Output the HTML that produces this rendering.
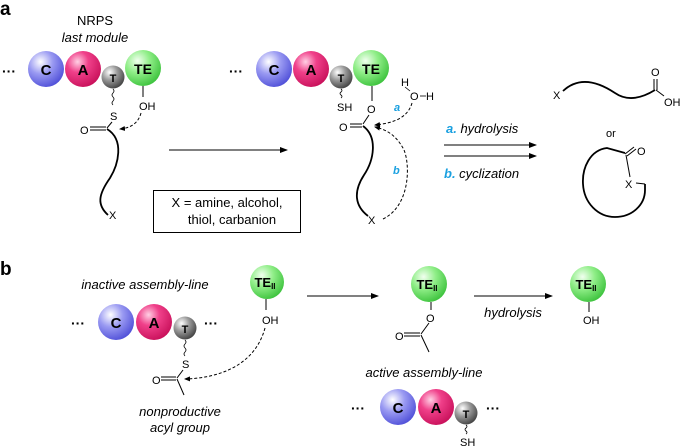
<!DOCTYPE html>
<html><head><meta charset="utf-8"><style>
html,body{margin:0;padding:0;background:#fff;}
svg{display:block;font-family:"Liberation Sans",sans-serif;}
</style></head><body>
<svg width="685" height="448" viewBox="0 0 685 448" xmlns="http://www.w3.org/2000/svg">
<defs>
<radialGradient id="gC" cx="0.35" cy="0.3" r="0.75"><stop offset="0" stop-color="#ffffff"/><stop offset="0.45" stop-color="#9a9af2"/><stop offset="1" stop-color="#4f4fd8"/></radialGradient>
<radialGradient id="gA" cx="0.35" cy="0.3" r="0.75"><stop offset="0" stop-color="#ffd0e4"/><stop offset="0.4" stop-color="#f0408a"/><stop offset="1" stop-color="#c8105a"/></radialGradient>
<radialGradient id="gT" cx="0.35" cy="0.3" r="0.75"><stop offset="0" stop-color="#ffffff"/><stop offset="0.45" stop-color="#9a9a9a"/><stop offset="1" stop-color="#404040"/></radialGradient>
<radialGradient id="gE" cx="0.35" cy="0.3" r="0.75"><stop offset="0" stop-color="#f2fff0"/><stop offset="0.45" stop-color="#90ee88"/><stop offset="1" stop-color="#3cc23c"/></radialGradient>
<marker id="ah" markerWidth="8" markerHeight="6" refX="7" refY="3" orient="auto" markerUnits="userSpaceOnUse"><path d="M0,0 L8,3 L0,6 z" fill="#000"/></marker>
<marker id="ahs" markerWidth="6" markerHeight="5" refX="5" refY="2.5" orient="auto" markerUnits="userSpaceOnUse"><path d="M0,0 L6,2.5 L0,5 z" fill="#000"/></marker>
</defs>
<g font-weight="bold" font-size="19"><text x="0" y="15">a</text><text x="0" y="275">b</text></g>

<!-- panel a, first -->
<text x="95" y="25" font-size="13" text-anchor="middle">NRPS</text>
<text x="95" y="42" font-size="13" font-style="italic" text-anchor="middle">last module</text>
<text x="2" y="76" font-size="14" font-weight="bold">···</text>
<circle cx="46" cy="69" r="18" fill="url(#gC)"/><circle cx="83" cy="69" r="18" fill="url(#gA)"/>
<circle cx="113" cy="77" r="11.5" fill="url(#gT)"/><circle cx="143" cy="68" r="18" fill="url(#gE)"/>
<g font-weight="bold" text-anchor="middle"><text x="46" y="75" font-size="15">C</text><text x="83" y="75" font-size="15">A</text><text x="113" y="82" font-size="11">T</text><text x="143" y="74" font-size="14">TE</text></g>
<path d="M113,89 q2,2 0,4 q-2,2 0,4 q2,2 0,4 q-2,2 0,4" fill="none" stroke="#000" stroke-width="0.8"/>
<line x1="143" y1="86" x2="143" y2="97" stroke="#000"/>
<g font-size="11"><text x="139" y="110">OH</text><text x="110" y="120">S</text><text x="80" y="134">O</text><text x="109" y="219">X</text></g>
<line x1="112" y1="122" x2="107" y2="128" stroke="#000"/>
<line x1="90" y1="127" x2="106" y2="127" stroke="#000"/><line x1="90" y1="130" x2="106" y2="130" stroke="#000"/>
<path d="M107,129 C125,140 118,165 110,178 C98,195 97,205 108,215" fill="none" stroke="#000" stroke-width="1.8"/>
<path d="M141,113 C138,124 130,128 120,129" fill="none" stroke="#000" stroke-dasharray="3,2" marker-end="url(#ahs)"/>
<line x1="169" y1="150" x2="287" y2="150" stroke="#000" marker-end="url(#ah)"/>
<rect x="153.5" y="190.5" width="147" height="42" fill="none" stroke="#000"/>
<text x="227" y="207" font-size="13" text-anchor="middle">X = amine, alcohol,</text>
<text x="232" y="224" font-size="13" text-anchor="middle">thiol, carbanion</text>

<!-- panel a, second -->
<text x="229" y="76" font-size="14" font-weight="bold">···</text>
<circle cx="274" cy="69" r="18" fill="url(#gC)"/><circle cx="311" cy="69" r="18" fill="url(#gA)"/>
<circle cx="341" cy="77" r="11.5" fill="url(#gT)"/><circle cx="371" cy="68" r="18" fill="url(#gE)"/>
<g font-weight="bold" text-anchor="middle"><text x="274" y="75" font-size="15">C</text><text x="311" y="75" font-size="15">A</text><text x="341" y="82" font-size="11">T</text><text x="371" y="74" font-size="14">TE</text></g>
<path d="M341,89 q2,1.5 0,3 q-2,1.5 0,3 q2,1.5 0,3" fill="none" stroke="#000" stroke-width="0.8"/>
<line x1="372" y1="86" x2="372" y2="101" stroke="#000"/>
<g font-size="11"><text x="337" y="111">SH</text><text x="367" y="113">O</text><text x="339" y="131">O</text><text x="368" y="224">X</text>
<text x="401" y="86">H</text><text x="410" y="100">O</text><text x="426" y="100">H</text></g>
<line x1="420" y1="96" x2="426" y2="96" stroke="#000" stroke-width="0.8"/>
<line x1="405" y1="87" x2="410" y2="91" stroke="#000" stroke-width="0.8"/>
<line x1="369" y1="115" x2="363" y2="124" stroke="#000"/>
<line x1="350" y1="124" x2="362" y2="124" stroke="#000"/><line x1="350" y1="127" x2="362" y2="127" stroke="#000"/>
<path d="M363,126 C378,137 374,160 364,175 C353,192 355,206 368,216" fill="none" stroke="#000" stroke-width="1.8"/>
<path d="M412,103 C408,117 395,123 375,125" fill="none" stroke="#000" stroke-dasharray="3,2" marker-end="url(#ahs)"/>
<path d="M383,219 C412,205 410,160 403,148 C396,136 388,130 375,127" fill="none" stroke="#000" stroke-dasharray="3,2" marker-end="url(#ahs)"/>
<g font-size="11" font-weight="bold" font-style="italic" fill="#1aa0e0"><text x="394" y="111">a</text><text x="393" y="174">b</text></g>

<line x1="444" y1="145" x2="536" y2="145" stroke="#000" marker-end="url(#ah)"/>
<line x1="444" y1="156" x2="536" y2="156" stroke="#000" marker-end="url(#ah)"/>
<text x="446" y="133" font-size="13" font-style="italic"><tspan fill="#1aa0e0" font-weight="bold">a.</tspan> hydrolysis</text>
<text x="444" y="178" font-size="13" font-style="italic"><tspan fill="#1aa0e0" font-weight="bold">b.</tspan> cyclization</text>

<g font-size="11"><text x="553" y="99">X</text><text x="651" y="76">O</text><text x="664" y="106">OH</text><text x="606" y="137">or</text>
<text x="637" y="155">O</text><text x="625" y="188">X</text></g>
<path d="M563,91 C580,75 600,83 615,93 C628,102 642,98 655,90" fill="none" stroke="#000" stroke-width="1.8"/>
<line x1="654" y1="79" x2="654" y2="90" stroke="#000"/><line x1="657" y1="79" x2="657" y2="90" stroke="#000"/>
<line x1="656" y1="90" x2="664" y2="96" stroke="#000"/>
<path d="M625,153 L607,148 C590,150 582,168 583,184 C584,203 598,217 615,217 C632,217 645,205 645,190 L645,184" fill="none" stroke="#000" stroke-width="1.8"/>
<line x1="626" y1="155" x2="630" y2="177" stroke="#000"/>
<line x1="625" y1="154" x2="634" y2="147" stroke="#000"/><line x1="627" y1="156" x2="636" y2="149" stroke="#000"/>
<line x1="636" y1="183" x2="645" y2="184" stroke="#000"/>

<!-- panel b -->
<text x="145" y="289" font-size="13" font-style="italic" text-anchor="middle">inactive assembly-line</text>
<text x="71" y="328" font-size="14" font-weight="bold">···</text>
<text x="204" y="328" font-size="14" font-weight="bold">···</text>
<circle cx="116" cy="322" r="18" fill="url(#gC)"/><circle cx="154" cy="322" r="18" fill="url(#gA)"/>
<circle cx="185" cy="328" r="11.5" fill="url(#gT)"/><circle cx="267" cy="282" r="17" fill="url(#gE)"/>
<g font-weight="bold" text-anchor="middle"><text x="116" y="328" font-size="15">C</text><text x="154" y="328" font-size="15">A</text><text x="185" y="333" font-size="11">T</text>
<text x="265" y="287" font-size="13">TE<tspan font-size="8" dy="2">II</tspan></text></g>
<path d="M185,340 q2,2 0,4 q-2,2 0,4 q2,2 0,4 q-2,2 0,4" fill="none" stroke="#000" stroke-width="0.8"/>
<line x1="266" y1="299" x2="266" y2="310" stroke="#000"/>
<g font-size="11"><text x="262" y="324">OH</text><text x="182" y="368">S</text><text x="152" y="384">O</text></g>
<line x1="183" y1="370" x2="177" y2="378" stroke="#000"/>
<line x1="161" y1="377" x2="176" y2="377" stroke="#000"/><line x1="161" y1="380" x2="176" y2="380" stroke="#000"/>
<line x1="177" y1="379" x2="184" y2="395" stroke="#000"/>
<path d="M265,328 C255,365 220,378 185,379" fill="none" stroke="#000" stroke-dasharray="3,2" marker-end="url(#ahs)"/>
<text x="180" y="416" font-size="13" font-style="italic" text-anchor="middle">nonproductive</text>
<text x="180" y="432" font-size="13" font-style="italic" text-anchor="middle">acyl group</text>

<line x1="307" y1="296" x2="378" y2="296" stroke="#000" marker-end="url(#ah)"/>
<circle cx="429" cy="284" r="18" fill="url(#gE)"/>
<text x="427" y="289" font-size="13" font-weight="bold" text-anchor="middle">TE<tspan font-size="8" dy="2">II</tspan></text>
<line x1="431" y1="302" x2="431" y2="310" stroke="#000"/>
<g font-size="11"><text x="426" y="322">O</text><text x="395" y="340">O</text></g>
<line x1="429" y1="323" x2="421" y2="334" stroke="#000"/>
<line x1="404" y1="333" x2="420" y2="333" stroke="#000"/><line x1="404" y1="336" x2="420" y2="336" stroke="#000"/>
<line x1="421" y1="335" x2="429" y2="352" stroke="#000"/>
<line x1="474" y1="296" x2="552" y2="296" stroke="#000" marker-end="url(#ah)"/>
<text x="513" y="317" font-size="13" font-style="italic" text-anchor="middle">hydrolysis</text>
<circle cx="588" cy="284" r="18" fill="url(#gE)"/>
<text x="586" y="289" font-size="13" font-weight="bold" text-anchor="middle">TE<tspan font-size="8" dy="2">II</tspan></text>
<line x1="589" y1="302" x2="589" y2="312" stroke="#000"/>
<text x="583" y="324" font-size="11">OH</text>

<text x="424" y="377" font-size="13" font-style="italic" text-anchor="middle">active assembly-line</text>
<text x="351" y="413" font-size="14" font-weight="bold">···</text>
<text x="486" y="413" font-size="14" font-weight="bold">···</text>
<circle cx="398" cy="407" r="18" fill="url(#gC)"/><circle cx="436" cy="407" r="18" fill="url(#gA)"/>
<circle cx="466" cy="413" r="11.5" fill="url(#gT)"/>
<g font-weight="bold" text-anchor="middle"><text x="398" y="413" font-size="15">C</text><text x="436" y="413" font-size="15">A</text><text x="466" y="418" font-size="11">T</text></g>
<path d="M466,425 q2,1.5 0,3 q-2,1.5 0,3 q2,1.5 0,3" fill="none" stroke="#000" stroke-width="0.8"/>
<text x="460" y="446" font-size="11">SH</text>
</svg>
</body></html>
